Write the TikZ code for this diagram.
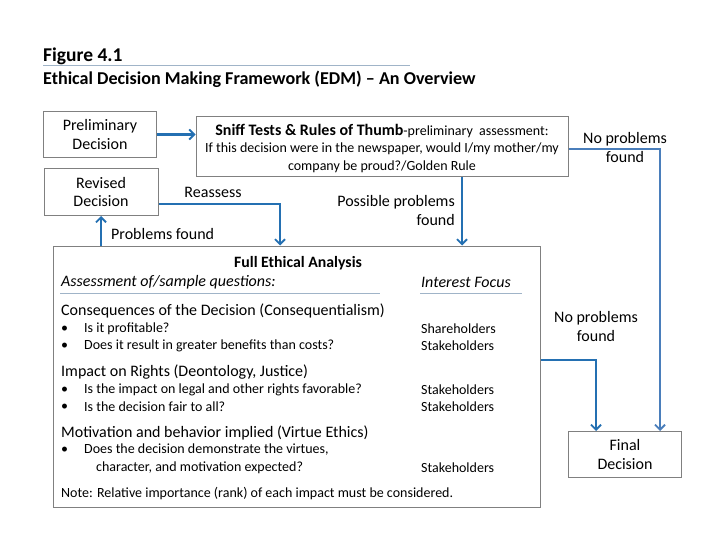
\documentclass[tikz,border=0pt]{standalone}
\usepackage{fontspec}
\setmainfont{Carlito}
\usetikzlibrary{arrows.meta,calc}
\definecolor{arrblue}{RGB}{36,112,178}
\definecolor{arrblueb}{RGB}{74,126,187}
\definecolor{boxgray}{RGB}{128,128,128}
\definecolor{ulblue}{RGB}{160,180,200}
\newcommand{\fs}[1]{\fontsize{#1}{#1}\selectfont}
\tikzset{
  box/.style={draw=boxgray,line width=1pt,inner sep=0pt,align=center},
  arr/.style={draw=arrblue,line width=2.2pt,-{Straight Barb[length=5pt,width=10pt,line width=1.8pt]}},
  arrb/.style={draw=arrblueb,line width=2.2pt,-{Straight Barb[length=5pt,width=10pt,line width=1.8pt]}},
  lbl/.style={inner sep=0pt,font=\fs{16}},
  txt/.style={inner sep=0pt,anchor=west},
  ul/.style={draw=ulblue,line width=1pt},
}
\begin{document}
\begin{tikzpicture}[x=1pt,y=-1pt]
\useasboundingbox (0,0) rectangle (720,540);
% title
\node[inner sep=0pt,anchor=base west,font=\bfseries\fs{19.5}] (fig) at (43,61.5) {Figure 4.1};
\draw[ul] (43,66) -- (410,66);
\node[inner sep=0pt,anchor=base west,font=\bfseries\fs{18.1}] (ttl) at (43,84.5) {Ethical Decision Making Framework (EDM) -- An Overview};
% boxes
\node[box,minimum width=113pt,minimum height=46pt,font=\fs{16}] (prelim) at (100,134.5) {Preliminary\\[2.3pt]Decision};
\node[box,minimum width=372pt,minimum height=60pt] (sniff) at (382,147) {};
\node[inner sep=0pt] (s1) at (382,131) {\fs{16}\textbf{Sniff Tests \& Rules of Thumb}\fs{14}-preliminary\ \ assessment:};
\node[inner sep=0pt,font=\fs{14}] (s2) at (382,149) {If this decision were in the newspaper, would I/my mother/my};
\node[inner sep=0pt,font=\fs{14}] (s3) at (382,167) {company be proud?/Golden Rule};
\node[box,minimum width=114pt,minimum height=47pt,font=\fs{16}] (revised) at (101,192) {Revised\\[2.3pt]Decision};
\node[box,minimum width=487pt,minimum height=261pt] (full) at (296.5,376.5) {};
\node[box,minimum width=113pt,minimum height=46pt,font=\fs{16}] (final) at (625,454.5) {Final\\[2.3pt]Decision};
% full analysis contents
\node[inner sep=0pt,font=\bfseries\fs{15.8}] (fa) at (298,263) {Full Ethical Analysis};
\node[txt,font=\itshape\fs{16}] (as) at (61,282) {Assessment of/sample questions:};
\node[txt,font=\itshape\fs{16}] (if) at (421,282) {Interest Focus};
\draw[ul] (60,293.5) -- (380,293.5);
\draw[ul] (420,293.5) -- (522,293.5);
\node[txt,font=\fs{16}] (c1) at (61,311) {Consequences of the Decision (Consequentialism)};
\node[txt,font=\fs{14}] (c2) at (61,329) {\textbullet};
\node[txt,font=\fs{14}] (c3) at (84,329) {Is it profitable?};
\node[txt,font=\fs{14}] (c4) at (421,329) {Shareholders};
\node[txt,font=\fs{14}] (c5) at (61,346) {\textbullet};
\node[txt,font=\fs{14}] (c6) at (84,346) {Does it result in greater benefits than costs?};
\node[txt,font=\fs{14}] (c7) at (421,346) {Stakeholders};
\node[txt,font=\fs{16}] (r1) at (61,372.5) {Impact on Rights (Deontology, Justice)};
\node[txt,font=\fs{14}] (r2) at (61,390) {\textbullet};
\node[txt,font=\fs{14}] (r3) at (84,390) {Is the impact on legal and other rights favorable?};
\node[txt,font=\fs{14}] (r4) at (421,390) {Stakeholders};
\node[txt,font=\fs{14}] (r5) at (61,407) {\textbullet};
\node[txt,font=\fs{14}] (r6) at (84,407) {Is the decision fair to all?};
\node[txt,font=\fs{14}] (r7) at (421,407) {Stakeholders};
\node[txt,font=\fs{16}] (m1) at (61,432.5) {Motivation and behavior implied (Virtue Ethics)};
\node[txt,font=\fs{14}] (m2) at (61,450) {\textbullet};
\node[txt,font=\fs{14}] (m3) at (84,450) {Does the decision demonstrate the virtues,};
\node[txt,font=\fs{14}] (m4) at (96,467.5) {character, and motivation expected?};
\node[txt,font=\fs{14}] (m5) at (421,467.5) {Stakeholders};
\node[txt,font=\fs{14}] (nt) at (61,493.5) {Note: Relative importance (rank) of each impact must be considered.};
% coordinates
\coordinate (rtop) at (280,0);
\coordinate (ptop) at (462,0);
\coordinate (pfx) at (101,0);
\coordinate (nox) at (596,0);
\coordinate (farx) at (660,0);
\coordinate (ry) at (0,204);
\coordinate (ny) at (0,360);
\coordinate (sy) at (0,149);
% connectors
\draw[arr] (prelim.east) -- (prelim.east -| sniff.west);
\draw[arrb] (sniff.east |- sy) -| (final.north -| farx);
\draw[arr] (sniff.south -| ptop) -- (full.north -| ptop);
\draw[arr] (revised.east |- ry) -| (full.north -| rtop);
\draw[arr] (full.north -| pfx) -- (revised.south -| pfx);
\draw[arr] (full.east |- ny) -| (final.north -| nox);
% labels
\node[lbl] (l1) at (213,192) {Reassess};
\node[lbl,anchor=west] (l2) at (111,234) {Problems found};
\node[lbl,align=right,anchor=east] (l3) at (455,210.5) {Possible problems\\[3pt]found};
\node[lbl,align=center] (l4) at (625,147.5) {No problems\\[3pt]found};
\node[lbl,align=center] (l5) at (596,327) {No problems\\[3pt]found};
\end{tikzpicture}
\end{document}
